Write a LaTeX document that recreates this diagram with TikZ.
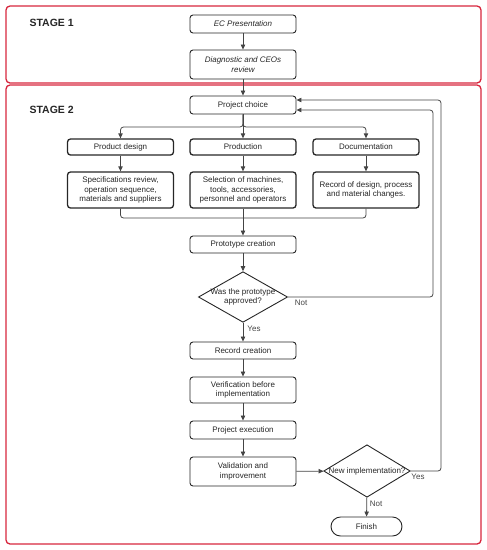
\documentclass[tikz,border=0pt]{standalone}
\usepackage{fontspec}
\setmainfont{Liberation Sans}
\usetikzlibrary{shapes.geometric, calc, arrows.meta, positioning}
\usepackage{xcolor}
\definecolor{stagered}{HTML}{D7263D}
\definecolor{boxline}{HTML}{262626}
\definecolor{linkgray}{HTML}{444444}

\tikzset{
  stagebox/.style={draw=stagered, line width=1.3pt, rounded corners=4pt},
  stagelabel/.style={anchor=west, text=boxline, font=\fontsize{10.5}{12}\selectfont\bfseries},
  flowbox/.style={draw=boxline, line width=0.9pt, rounded corners=3pt, minimum width=106pt,
    minimum height=18pt, align=center, inner sep=1pt, text=boxline, font=\fontsize{8}{9.6}\selectfont},
  taskbox/.style={flowbox, line width=1.3pt},
  question/.style={diamond, draw=boxline, line width=0.9pt, align=center, inner sep=0pt,
    text=boxline, font=\fontsize{8}{9.6}\selectfont},
  endbox/.style={flowbox, minimum width=71pt, minimum height=19pt, rounded corners=9.5pt},
  link/.style={draw=linkgray, line width=0.8pt, -{Triangle[length=5pt,width=4.4pt]}},
  joinline/.style={draw=linkgray, line width=0.8pt},
  answer/.style={text=linkgray, font=\fontsize{8}{9.6}\selectfont},
}

\begin{document}
\begin{tikzpicture}[x=1pt, y=-1pt]
  \useasboundingbox (0,0) rectangle (487,550);

  % Stage frames
  \draw[stagebox] (6,6) rectangle (481,83);
  \draw[stagebox] (6,85) rectangle (481,544);
  \node[stagelabel] (stage1) at (26,23) {STAGE 1};
  \node[stagelabel] (stage2) at (26,110) {STAGE 2};

  % Stage 1
  \node[flowbox, font=\fontsize{8}{9.6}\selectfont\itshape] (ec) at (243,24) {EC Presentation};
  \node[flowbox, minimum height=29pt, font=\fontsize{8}{9.6}\selectfont\itshape] (diag) at (243,64.5) {Diagnostic and CEOs\\review};

  % Stage 2
  \node[flowbox] (choice) at (243,105) {Project choice};
  \node[taskbox, minimum height=16pt] (design) at (120.5,147) {Product design};
  \node[taskbox, minimum height=16pt] (prod) at (243,147) {Production};
  \node[taskbox, minimum height=16pt] (doc) at (366,147) {Documentation};
  \node[taskbox, minimum height=36pt] (spec) at (120.5,190) {Specifications review,\\operation sequence,\\materials and suppliers};
  \node[taskbox, minimum height=36pt] (sel) at (243,190) {Selection of machines,\\tools, accessories,\\personnel and operators};
  \node[taskbox, minimum height=36pt] (rec) at (366,190) {Record of design, process\\and material changes.};
  \node[flowbox, minimum height=17pt] (proto) at (243,244.5) {Prototype creation};
  \node[question, aspect=1.76, inner sep=-1pt] (approved) at (243,297) {Was the prototype\\approved?};
  \node[flowbox, minimum height=17pt] (record) at (243,350.5) {Record creation};
  \node[flowbox, minimum height=26pt] (verif) at (243,390) {Verification before\\implementation};
  \node[flowbox] (exec) at (243,430) {Project execution};
  \node[flowbox, minimum height=29pt] (valid) at (243,471.5) {Validation and\\improvement};
  \node[question, aspect=1.65, inner sep=-0.5pt] (newimp) at (367,471) {New implementation?};
  \node[endbox] (finish) at (366.5,526.5) {Finish};

  \coordinate (split) at (243,127);
  \coordinate (merge) at (243,218);

  % Connectors
  \draw[link] (ec) -- (diag);
  \draw[link] (diag) -- (choice);
  \draw[link] (choice) -- (prod);
  \draw[link, rounded corners=3pt] (choice.south) -- (split) -| (design.north);
  \draw[link, rounded corners=3pt] (choice.south) -- (split) -| (doc.north);
  \draw[link] (design) -- (spec);
  \draw[link] (prod) -- (sel);
  \draw[link] (doc) -- (rec);
  \draw[joinline, rounded corners=3pt] (spec.south) |- (merge);
  \draw[joinline, rounded corners=3pt] (rec.south) |- (merge);
  \draw[link] (sel) -- (proto);
  \draw[link] (proto) -- (approved);
  \draw[link] (approved) -- (record);
  \draw[link] (record) -- (verif);
  \draw[link] (verif) -- (exec);
  \draw[link] (exec) -- (valid);
  \draw[link] (valid) -- (newimp);
  \draw[link] (newimp) -- (finish);
  \draw[link, rounded corners=3pt] (approved.east) -| (433,110) -- ($(choice.east)+(0,5)$);
  \draw[link, rounded corners=3pt] (newimp.east) -| (441,100) -- ($(choice.east)+(0,-5)$);

  % Answers
  \node[answer] (notA) at (301,303) {Not};
  \node[answer] (yesA) at (254,329) {Yes};
  \node[answer] (yesB) at (418,477) {Yes};
  \node[answer] (notB) at (376,504) {Not};
\end{tikzpicture}
\end{document}
